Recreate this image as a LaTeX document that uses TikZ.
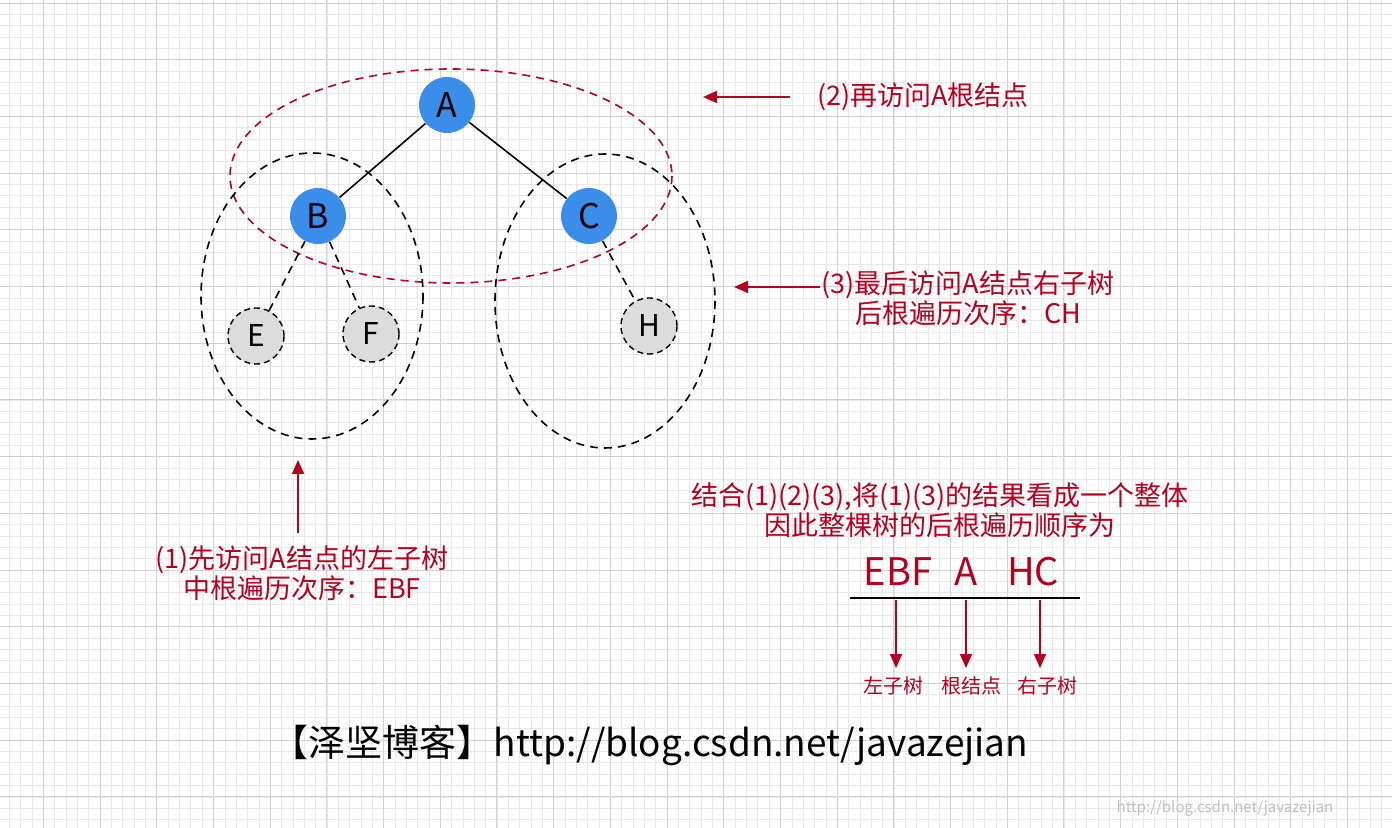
\documentclass[tikz,border=0pt]{standalone}
\usepackage{fontspec}
\setmainfont{Noto Sans CJK SC}
\usetikzlibrary{arrows.meta}
\definecolor{rd}{HTML}{B3001F}
\definecolor{bl}{HTML}{3A8EEA}
\definecolor{gn}{HTML}{DCDCDC}
\tikzset{
 blue node/.style={circle,fill=bl,minimum size=28pt,inner sep=0pt,font=\fontsize{17}{17}\selectfont},
 gray node/.style={circle,fill=gn,draw=black,dash pattern=on 3pt off 2pt,line width=0.7pt,minimum size=28pt,inner sep=0pt,font=\fontsize{15}{15}\selectfont},
 redtxt/.style={text=rd,font=\fontsize{13.5}{15}\selectfont,align=center},
 redarrow/.style={draw=rd,line width=0.9pt,-{Triangle[length=7pt,width=6pt]}},
 blkdash/.style={draw=black,dash pattern=on 4pt off 3pt,line width=0.8pt},
}
\begin{document}
\begin{tikzpicture}[x=0.5pt,y=-0.5pt]
\useasboundingbox (0,0) rectangle (1392,828);
\fill[white] (0,0) rectangle (1392,828);
\foreach \i in {0,...,123} {\draw[gray!18,line width=0.3pt] ({\i*11.34-2},0) -- ({\i*11.34-2},828);}
\foreach \i in {0,...,73} {\draw[gray!18,line width=0.3pt] (0,{\i*11.34+3}) -- (1392,{\i*11.34+3});}
\foreach \i in {0,...,25} {\draw[gray!35,line width=0.4pt] ({\i*56.7-13.5},0) -- ({\i*56.7-13.5},828);}
\foreach \i in {0,...,15} {\draw[gray!35,line width=0.4pt] (0,{\i*56.7+3}) -- (1392,{\i*56.7+3});}

\draw[rd,dash pattern=on 4pt off 3pt,line width=0.8pt] (451,176) ellipse [x radius=221,y radius=107];
\draw[blkdash] (312,296) ellipse [x radius=111,y radius=143];
\draw[blkdash] (605,301) ellipse [x radius=110,y radius=147];

\node[blue node] (A) at (447,105) {A};
\node[blue node] (B) at (318,216) {B};
\node[blue node] (C) at (589,216) {C};
\node[gray node] (E) at (256,336) {E};
\node[gray node] (F) at (371,334) {F};
\node[gray node] (H) at (649,326) {H};
\draw[line width=0.8pt] (A) -- (B);
\draw[line width=0.8pt] (A) -- (C);
\draw[blkdash] (B) -- (E);
\draw[blkdash] (B) -- (F);
\draw[blkdash] (C) -- (H);

\coordinate (a2s) at (790,97); \coordinate (a2e) at (703,97);
\draw[redarrow] (a2s) -- (a2e);
\node[redtxt,anchor=west] (t2) at (810,97) {(2)再访问A根结点};
\coordinate (a3s) at (820,287); \coordinate (a3e) at (734,287);
\draw[redarrow] (a3s) -- (a3e);
\node[redtxt] (t3) at (968,298) {(3)最后访问A结点右子树\\后根遍历次序：CH};
\coordinate (a1s) at (298,533); \coordinate (a1e) at (298,460);
\draw[redarrow] (a1s) -- (a1e);
\node[redtxt] (t1) at (302,573) {(1)先访问A结点的左子树\\中根遍历次序：EBF};
\node[redtxt] (tc) at (940,510) {结合(1)(2)(3),将(1)(3)的结果看成一个整体\\因此整棵树的后根遍历顺序为};

\node[text=rd,font=\fontsize{19}{19}\selectfont] (o1) at (898,572) {EBF};
\node[text=rd,font=\fontsize{19}{19}\selectfont] (o2) at (966,572) {A};
\node[text=rd,font=\fontsize{19}{19}\selectfont] (o3) at (1033,572) {HC};
\coordinate (l1) at (850,598); \coordinate (l2) at (1080,598);
\draw[line width=0.8pt] (l1) -- (l2);
\node[text=rd,font=\fontsize{10}{10}\selectfont] (s1) at (893,686) {左子树};
\node[text=rd,font=\fontsize{10}{10}\selectfont] (s2) at (971,686) {根结点};
\node[text=rd,font=\fontsize{10}{10}\selectfont] (s3) at (1047,686) {右子树};
\draw[redarrow] (896,600) -- (896,668);
\draw[redarrow] (966,600) -- (966,668);
\draw[redarrow] (1040,600) -- (1040,668);

\node[font=\fontsize{18.5}{18.5}\selectfont] (url) at (650,745) {【泽坚博客】http://blog.csdn.net/javazejian};
\node[text=gray!50,font=\fontsize{7.5}{7.5}\selectfont] (wm) at (1225,808) {http://blog.csdn.net/javazejian};
\end{tikzpicture}
\end{document}
